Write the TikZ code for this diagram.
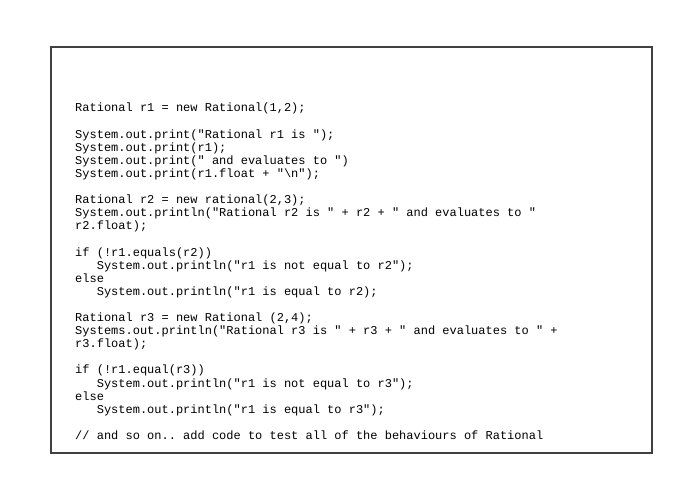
\documentclass[tikz,border=0pt]{standalone}
\usepackage{fontspec}
\setmonofont{Liberation Mono}
\begin{document}
\begin{tikzpicture}[x=1pt,y=1pt,
  codeline/.style={anchor=base west,inner sep=0pt,font=\ttfamily\fontsize{12}{13}\selectfont}]
\useasboundingbox (0,0) rectangle (690,495);
\fill[white] (0,0) rectangle (690,495);
\draw[draw=black!75,line width=1.3pt] (51,42) rectangle (652,448) node[pos=0,inner sep=0pt] (box) {};
\def\L#1#2#3{\node[codeline] (l#1) at (#3,{495-(112+13.1*#1)}) {#2};}
\L{0}{Rational r1 = new Rational(1,2);}{75}
\L{2}{System.out.print("Rational r1 is ");}{75}
\L{3}{System.out.print(r1);}{75}
\L{4}{System.out.print(" and evaluates to ")}{75}
\L{5}{System.out.print(r1.float + "\textbackslash n");}{75}
\L{7}{Rational r2 = new rational(2,3);}{75}
\L{8}{System.out.println("Rational r2 is " + r2 + " and evaluates to "}{75}
\L{9}{r2.float);}{75}
\L{11}{if (!r1.equals(r2))}{75}
\L{12}{System.out.println("r1 is not equal to r2");}{96.6}
\L{13}{else}{75}
\L{14}{System.out.println("r1 is equal to r2);}{96.6}
\L{16}{Rational r3 = new Rational (2,4);}{75}
\L{17}{Systems.out.println("Rational r3 is " + r3 + " and evaluates to " +}{75}
\L{18}{r3.float);}{75}
\L{20}{if (!r1.equal(r3))}{75}
\L{21}{System.out.println("r1 is not equal to r3");}{96.6}
\L{22}{else}{75}
\L{23}{System.out.println("r1 is equal to r3");}{96.6}
\L{25}{// and so on.. add code to test all of the behaviours of Rational}{75}
\end{tikzpicture}
\end{document}
